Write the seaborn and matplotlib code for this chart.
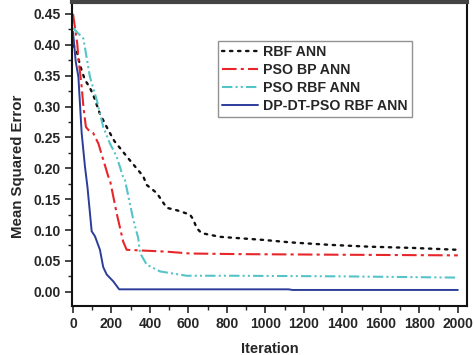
import numpy as np
import pandas as pd
import matplotlib
matplotlib.use('Agg')
import matplotlib.pyplot as plt
import seaborn as sns
from matplotlib.ticker import MultipleLocator

# values
rbf_iter = [0, 20, 36, 62, 85, 105, 140, 183, 215, 290, 365, 383, 435, 487, 540, 608, 625, 643, 668, 764, 990, 1130, 1335, 1545, 1770, 2000]
rbf_mse = [0.40, 0.389, 0.367, 0.343, 0.332, 0.319, 0.288, 0.262, 0.244, 0.215, 0.187, 0.173, 0.160, 0.136, 0.132, 0.125, 0.117, 0.103, 0.095, 0.089, 0.084, 0.080, 0.076, 0.073, 0.071, 0.068]

bp_iter = [0, 22, 28, 45, 54, 67, 80, 105, 132, 157, 183, 192, 227, 261, 279, 348, 487, 608, 867, 1400, 2000]
bp_mse = [0.45, 0.402, 0.378, 0.332, 0.300, 0.267, 0.262, 0.257, 0.240, 0.214, 0.187, 0.181, 0.127, 0.081, 0.068, 0.067, 0.065, 0.062, 0.061, 0.060, 0.059]

psorbf_iter = [0, 54, 88, 123, 157, 192, 227, 261, 270, 313, 339, 348, 383, 452, 590, 831, 1400, 2000]
psorbf_mse = [0.427, 0.41, 0.348, 0.311, 0.267, 0.240, 0.219, 0.185, 0.181, 0.117, 0.087, 0.063, 0.044, 0.033, 0.026, 0.026, 0.025, 0.023]

dp_iter = [0, 14, 28, 45, 62, 75, 97, 114, 140, 157, 175, 209, 240, 1120, 1140, 2000]
dp_mse = [0.421, 0.373, 0.348, 0.257, 0.203, 0.170, 0.098, 0.090, 0.068, 0.040, 0.028, 0.017, 0.004, 0.004, 0.003, 0.003]

labels = ['RBF ANN', 'PSO BP ANN', 'PSO RBF ANN', 'DP-DT-PSO RBF ANN']
colors = ['#111111', '#e8262a', '#55c4c8', '#2b3d99']
dashes = [(1, 2.4), (7, 2, 1.5, 2), (5, 1.5, 1, 1.5, 1, 1.5), ()]

sns.set_style('ticks')
plt.rcParams['font.family'] = ['Liberation Sans', 'DejaVu Sans']
plt.rcParams['font.weight'] = 'bold'

fig = plt.figure(figsize=(4.74, 3.55), dpi=100)
ax = fig.add_axes([0.152, 0.138, 0.833, 0.856])

series = [(rbf_iter, rbf_mse), (bp_iter, bp_mse), (psorbf_iter, psorbf_mse), (dp_iter, dp_mse)]
for (xs, ys), lab, col, ds in zip(series, labels, colors, dashes):
    df = pd.DataFrame({'Iteration': xs, 'MSE': ys})
    sns.lineplot(data=df, x='Iteration', y='MSE', ax=ax, color=col,
                 label=lab, linewidth=1.5 if ds else 1.4)
    ln = ax.get_lines()[-1]
    if ds:
        ln.set_dashes(ds)
    if lab == 'RBF ANN':
        ln.set_dash_capstyle('round')
        ln.set_linewidth(1.7)

ax.set_xlim(-5, 2047)
ax.set_ylim(-0.023, 0.469)
ax.xaxis.set_major_locator(MultipleLocator(200))
ax.xaxis.set_minor_locator(MultipleLocator(100))
ax.yaxis.set_major_locator(MultipleLocator(0.05))
ax.yaxis.set_minor_locator(MultipleLocator(0.025))
ax.yaxis.set_major_formatter(matplotlib.ticker.FormatStrFormatter('%.2f'))
ax.tick_params(which='major', direction='out', length=5, width=1.2, labelsize=10, pad=3)
ax.tick_params(which='minor', direction='out', length=3, width=1)
for lab in ax.get_xticklabels() + ax.get_yticklabels():
    lab.set_fontweight('bold')

ax.set_xlabel('Iteration', fontsize=10.5, fontweight='bold', labelpad=8)
ax.set_ylabel('Mean Squared Error', fontsize=10.8, fontweight='bold')
ax.yaxis.set_label_coords(-0.118, 0.46)

for side in ['left', 'bottom', 'right']:
    ax.spines[side].set_linewidth(1.5)
    ax.spines[side].set_color('#111111')
ax.spines['top'].set_linewidth(3)
ax.spines['top'].set_color('#444444')

leg = ax.legend(loc='upper left', bbox_to_anchor=(0.37, 0.872), fontsize=10.2,
                handlelength=2.5, handletextpad=0.35, labelspacing=0.27,
                borderpad=0.3, borderaxespad=0, fancybox=False, frameon=True,
                shadow=False)
leg.get_frame().set_edgecolor('#777777')
leg.get_frame().set_linewidth(1.0)
for t in leg.get_texts():
    t.set_fontweight('bold')

fig.savefig('out.png', dpi=100)
